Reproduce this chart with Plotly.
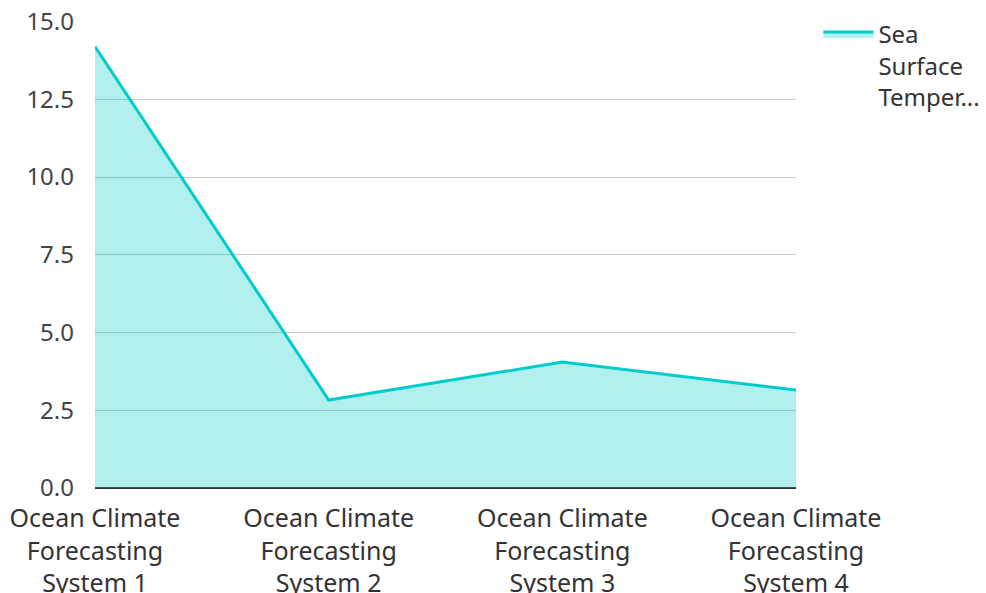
import plotly.graph_objects as go

categories = [
    "Ocean Climate<br>Forecasting<br>System 1",
    "Ocean Climate<br>Forecasting<br>System 2",
    "Ocean Climate<br>Forecasting<br>System 3",
    "Ocean Climate<br>Forecasting<br>System 4",
]
sst_values = [14.2, 2.83, 4.05, 3.15]
series_name = "Sea<br>Surface<br>Temper..."
y_ticks = [0, 2.5, 5, 7.5, 10, 12.5, 15]

fig = go.Figure()
fig.add_trace(go.Scatter(
    x=list(range(len(categories))),
    y=sst_values,
    name=series_name,
    mode="lines",
    line=dict(color="#00cccc", width=3),
    fill="tozeroy",
    fillcolor="rgba(0,204,204,0.3)",
))

fig.update_layout(
    width=986,
    height=593,
    margin=dict(l=95, r=190, t=21, b=105),
    paper_bgcolor="white",
    plot_bgcolor="white",
    font=dict(family="Noto Sans", size=25, color="#333333"),
    showlegend=True,
    legend=dict(
        xref="container", yref="container",
        x=0.83, y=0.98, xanchor="left", yanchor="top",
        valign="top",
        font=dict(size=24, color="#333333"),
        itemwidth=50,
    ),
    xaxis=dict(
        range=[0, 3],
        automargin=False,
        tickmode="array",
        tickvals=list(range(len(categories))),
        ticktext=categories,
        showgrid=False,
        zeroline=False,
        showline=False,
        ticks="",
        ticklabelstandoff=13,
        tickfont=dict(size=25, color="#333333"),
    ),
    yaxis=dict(
        range=[0, 15.02],
        automargin=False,
        tickmode="array",
        tickvals=y_ticks,
        ticktext=[f"{v:.1f}" for v in y_ticks],
        showgrid=True,
        gridcolor="#c8c8c8",
        gridwidth=1,
        zeroline=True,
        zerolinecolor="#333333",
        zerolinewidth=2,
        ticks="",
        ticklabelstandoff=20,
        tickfont=dict(size=24, color="#444444"),
    ),
)

fig.write_html("out.html")
